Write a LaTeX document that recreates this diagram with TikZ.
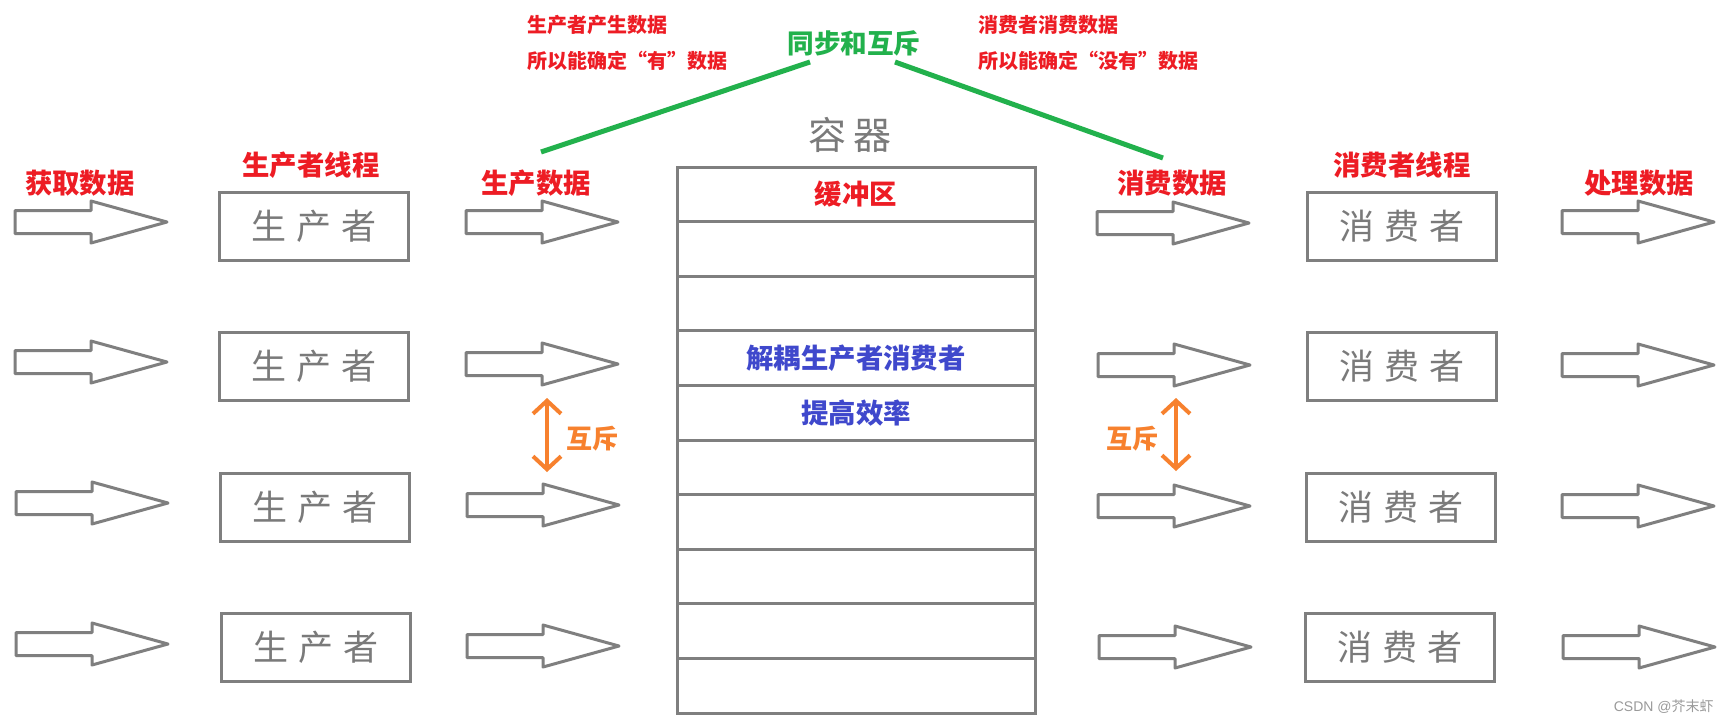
\documentclass[tikz,border=0pt]{standalone}
\usepackage{fontspec}
\setmainfont{Liberation Sans}
\newfontfamily\cjk{Noto Sans CJK SC}
\usetikzlibrary{arrows.meta}
\definecolor{pred}{HTML}{ED1C24}
\definecolor{pgreen}{HTML}{22B14C}
\definecolor{pblue}{HTML}{3F48CC}
\definecolor{porange}{HTML}{F7812E}
\definecolor{lgray}{HTML}{7F7F7F}
\definecolor{tgray}{HTML}{7A7A7A}
\definecolor{wgray}{HTML}{9A9A9A}
\begin{document}
\begin{tikzpicture}[x=0.5pt,y=-0.5pt,
  lab/.style={font=\cjk\bfseries\fontsize{13.7}{15}\selectfont, text=pred, inner sep=0},
  note/.style={font=\cjk\bfseries\fontsize{10}{12}\selectfont, text=pred, anchor=west, inner sep=0},
  mid/.style={font=\cjk\bfseries\fontsize{13.7}{15}\selectfont, text=pblue, inner sep=0},
  box/.style={draw=lgray, line width=1.5pt, minimum width=94.5pt, minimum height=34pt, inner sep=0,
    font=\cjk\fontsize{17.5}{20}\selectfont, text=tgray},
  cell/.style={draw=lgray, line width=1.5pt, minimum width=179pt, minimum height=27.3pt, inner sep=0},
  arrowline/.style={draw=lgray, line width=1.5pt, fill=white, line join=round},
  blockarrow/.pic={\path[arrowline] (0,-11.5) -- (76,-11.5) -- (76,-21) -- (152,0) -- (76,21) -- (76,11.5) -- (0,11.5) -- cycle;},
  sync/.style={draw=pgreen, line width=2.5pt},
  mutex/.style={draw=porange, line width=2pt, {Straight Barb[length=6.5pt,width=14pt]}-{Straight Barb[length=6.5pt,width=14pt]}},
  mutexlab/.style={font=\cjk\bfseries\fontsize{13}{15}\selectfont, text=porange, inner sep=0}
]
\fill[white] (0,0) rectangle (1730,725);
\useasboundingbox (0,0) rectangle (1730,725);

% top notes
\node[note] (n1) at (527,25) {生产者产生数据};
\node[note] (n2) at (527,61) {所以能确定“有”数据};
\node[note] (n3) at (978,25) {消费者消费数据};
\node[note] (n4) at (978,61) {所以能确定“没有”数据};
\node[font=\cjk\bfseries\fontsize{13.3}{15}\selectfont, text=pgreen, inner sep=0] (sync) at (854,43) {同步和互斥};
\coordinate (gl1) at (541,152);
\coordinate (gl2) at (810,62);
\coordinate (gr1) at (895,62);
\coordinate (gr2) at (1163,158);
\draw[sync] (gl1) -- (gl2);
\draw[sync] (gr1) -- (gr2);

% column labels
\node[lab] (l1) at (80,183) {获取数据};
\node[lab] (l2) at (311,165) {生产者线程};
\node[lab] (l3) at (536,183) {生产数据};
\node[lab] (l4) at (1172,183) {消费数据};
\node[lab] (l5) at (1402,165) {消费者线程};
\node[lab] (l6) at (1639,183) {处理数据};

% container
\node[font=\cjk\fontsize{19}{21}\selectfont, text=tgray, inner sep=0] (cont) at (850,135) {容\hspace{4pt}器};
\foreach \i in {0,...,9} {
  \node[cell] (r\i) at (856,{167+54.6*\i+27.3}) {};
}
\node[lab] (buf) at (r0) {缓冲区};
\node[mid] (dec) at (r3) {解耦生产者消费者};
\node[mid] (eff) at (r4) {提高效率};

% producers
\node[box] (p1) at (314,226) {生\hspace{5pt}产\hspace{5pt}者};
\node[box] (p2) at (314,366) {生\hspace{5pt}产\hspace{5pt}者};
\node[box] (p3) at (315,507) {生\hspace{5pt}产\hspace{5pt}者};
\node[box] (p4) at (316,647) {生\hspace{5pt}产\hspace{5pt}者};
% consumers
\node[box] (c1) at (1402,226) {消\hspace{5pt}费\hspace{5pt}者};
\node[box] (c2) at (1402,366) {消\hspace{5pt}费\hspace{5pt}者};
\node[box] (c3) at (1401,507) {消\hspace{5pt}费\hspace{5pt}者};
\node[box] (c4) at (1400,647) {消\hspace{5pt}费\hspace{5pt}者};

% block arrows
\pic at (15,222) {blockarrow};
\pic at (15,362) {blockarrow};
\pic at (16,503) {blockarrow};
\pic at (16,644) {blockarrow};
\pic at (466,222) {blockarrow};
\pic at (466,364) {blockarrow};
\pic at (467,505) {blockarrow};
\pic at (467,646) {blockarrow};
\pic at (1097,223) {blockarrow};
\pic at (1098,365) {blockarrow};
\pic at (1098,506) {blockarrow};
\pic at (1099,647) {blockarrow};
\pic at (1562,222) {blockarrow};
\pic at (1562,365) {blockarrow};
\pic at (1562,506) {blockarrow};
\pic at (1563,647) {blockarrow};

% mutex arrows
\coordinate (ml1) at (547,398);
\coordinate (ml2) at (547,472);
\coordinate (mr1) at (1176,398);
\coordinate (mr2) at (1176,471);
\draw[mutex] (ml1) -- (ml2);
\draw[mutex] (mr1) -- (mr2);
\node[mutexlab] (mlab) at (592,439) {互斥};
\node[mutexlab] (mrlab) at (1132,439) {互斥};

% watermark
\node[font=\fontsize{7}{8}\selectfont, text=wgray, inner sep=0, anchor=east] (wm) at (1714,707) {CSDN @{\cjk 芥末虾}};
\end{tikzpicture}
\end{document}
